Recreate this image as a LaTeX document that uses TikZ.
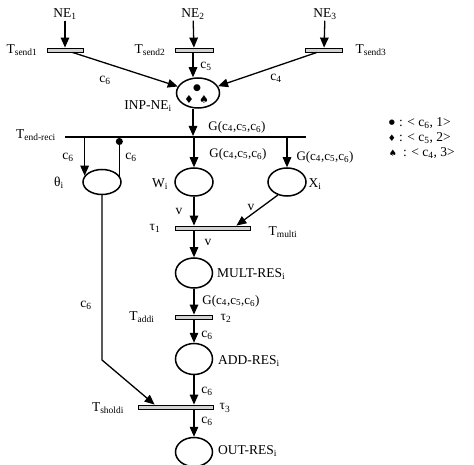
\documentclass[tikz,border=0pt]{standalone}
\usepackage{fontspec}
\setmainfont{Liberation Serif}
\newfontfamily\symfont{DejaVu Sans}
\usetikzlibrary{arrows.meta,shapes.geometric}
\newcommand{\subtx}[1]{\textsubscript{#1}}
\tikzset{
  place/.style={draw, ellipse, line width=1.5pt, minimum width=38pt,
    minimum height=28pt, inner sep=0pt},
  trans/.style={draw, fill=gray!35, line width=0.8pt, minimum height=4pt,
    inner sep=0pt},
  arc/.style={line width=1.3pt, -{Triangle[length=10pt,width=8.5pt]}},
  lbl/.style={font=\fontsize{13.5}{15}\selectfont, inner sep=1pt},
  glbl/.style={font=\fontsize{13}{15}\selectfont, inner sep=1pt},
}
\begin{document}
\begin{tikzpicture}[x=1pt, y=-1pt]
  \useasboundingbox (0,0) rectangle (474,465);

  % Sender
  \node[lbl] (ne1) at (65,14) {NE\subtx{1}};
  \node[lbl] (ne2) at (193,14) {NE\subtx{2}};
  \node[lbl] (ne3) at (325,14) {NE\subtx{3}};
  \node[trans, minimum width=36pt] (ts1) at (65,50) {};
  \node[trans, minimum width=38pt] (ts2) at (194,50) {};
  \node[trans, minimum width=37pt] (ts3) at (324,50) {};
  \node[lbl] (ts1-l) at (22,50) {T\subtx{send1}};
  \node[lbl] (ts2-l) at (150,50) {T\subtx{send2}};
  \node[lbl] (ts3-l) at (371,50) {T\subtx{send3}};
  \draw[arc] (ne1) -- (ts1);
  \draw[arc] (ne2) -- (ts2);
  \draw[arc] (ne3) -- (ts3);

  % Eingangsplatz mit Marken
  \node[place, minimum width=43pt, minimum height=30pt] (inp) at (198,93) {};
  \node[font=\symfont\fontsize{9}{9}\selectfont, inner sep=0pt] (tok1) at (197,88) {●};
  \node[font=\symfont\fontsize{11}{11}\selectfont, inner sep=0pt] (tok2) at (189,99) {♦};
  \node[font=\symfont\fontsize{11}{11}\selectfont, inner sep=0pt] (tok3) at (204,99) {♠};
  \node[lbl] (inp-l) at (148,106) {INP-NE\subtx{i}};
  \draw[arc] (ts1) -- (inp);
  \draw[arc] (ts2.south -| 193,0) -- (inp.north -| 193,0);
  \draw[arc] (ts3) -- (inp);
  \node[lbl] (c6a) at (105,80) {c\subtx{6}};
  \node[lbl] (c5a) at (206,66) {c\subtx{5}};
  \node[lbl] (c4a) at (276,78) {c\subtx{4}};

  % Legende
  \node[font=\symfont\fontsize{7}{7}\selectfont] (lg1) at (392,123) {●};
  \node[font=\symfont\fontsize{9}{9}\selectfont] (lg2) at (392,138) {♦};
  \node[font=\symfont\fontsize{9}{9}\selectfont] (lg3) at (393,153) {♠};
  \node[lbl, anchor=west] (lg1-t) at (398,123) {: < c\subtx{6}, 1>};
  \node[lbl, anchor=west] (lg2-t) at (398,138) {: < c\subtx{5}, 2>};
  \node[lbl, anchor=west] (lg3-t) at (402,153) {: < c\subtx{4}, 3>};

  % Verteilung
  \node[fill=black, minimum width=241pt, minimum height=1.6pt, inner sep=0pt]
    (tend) at (185.5,137) {};
  \node[lbl] (tend-l) at (36,135) {T\subtx{end-reci}};
  \draw[arc] (inp.south -| 193,0) -- (tend.north -| 193,0);
  \node[glbl] (g1) at (237,127) {G(c\subtx{4},c\subtx{5},c\subtx{6})};

  \node[place, minimum height=25pt] (theta) at (102,182) {};
  \node[place] (w) at (194,182) {};
  \node[place] (x) at (287,182) {};
  \node[lbl] (theta-l) at (59,183) {θ\subtx{i}};
  \node[lbl] (w-l) at (160,184) {W\subtx{i}};
  \node[lbl] (x-l) at (315,184) {X\subtx{i}};
  \draw[arc] (tend.south -| theta.160) -- (theta.160);
  \draw[line width=1.3pt, -{Circle[length=7pt]}] (theta.20) -- (theta.20 |- tend.south);
  \draw[arc] (tend.south -| w) -- (w);
  \draw[arc] (tend.south -| x) -- (x);
  \node[lbl] (c6b) at (68,157) {c\subtx{6}};
  \node[lbl] (c6c) at (131,157) {c\subtx{6}};
  \node[glbl] (g2) at (238,154) {G(c\subtx{4},c\subtx{5},c\subtx{6})};
  \node[glbl] (g3) at (325,157) {G(c\subtx{4},c\subtx{5},c\subtx{6})};

  % Multiplikation
  \node[trans, minimum width=75pt] (tmul) at (212.5,228) {};
  \node[lbl] (tmul-l1) at (155,228) {τ\subtx{1}};
  \node[lbl] (tmul-l2) at (283,232) {T\subtx{multi}};
  \draw[arc] (w) -- (w |- tmul.north);
  \draw[arc] (x.235) -- ([xshift=-14pt]tmul.north east);
  \node[lbl] (v1) at (179,211) {v};
  \node[lbl] (v2) at (251,207) {v};
  \node[place, minimum width=37pt, minimum height=30pt] (mult) at (194,273) {};
  \node[lbl, anchor=west] (mult-l) at (216,274) {MULT-RES\subtx{i}};
  \draw[arc] (tmul.south -| mult) -- (mult);
  \node[lbl] (v3) at (208,242) {v};

  % Addition
  \node[trans, minimum width=37pt] (tadd) at (194,317) {};
  \node[lbl] (tadd-l1) at (142,317) {T\subtx{addi}};
  \node[lbl] (tadd-l2) at (226,318) {τ\subtx{2}};
  \draw[arc] (mult) -- (tadd);
  \node[glbl] (g4) at (231,301) {G(c\subtx{4},c\subtx{5},c\subtx{6})};
  \node[place, minimum width=37pt, minimum height=31pt] (add) at (194,359) {};
  \node[lbl, anchor=west] (add-l) at (217,361) {ADD-RES\subtx{i}};
  \draw[arc] (tadd) -- (add);
  \node[lbl] (c6d) at (207,335) {c\subtx{6}};

  % Ausgabe
  \node[trans, minimum width=75pt] (thold) at (175.5,407) {};
  \node[lbl] (thold-l1) at (108,408) {T\subtx{sholdi}};
  \node[lbl] (thold-l2) at (225,408) {τ\subtx{3}};
  \draw[arc] (add) -- (add |- thold.north);
  \draw[arc] (theta) -- (theta |- 0,360) -- ([xshift=17pt]thold.north west);
  \node[lbl] (c6e) at (86,305) {c\subtx{6}};
  \node[lbl] (c6f) at (207,391) {c\subtx{6}};
  \node[place, minimum width=37pt, minimum height=29pt] (out) at (194,452) {};
  \node[lbl, anchor=west] (out-l) at (217,451) {OUT-RES\subtx{i}};
  \draw[arc] (thold.south -| out) -- (out);
  \node[lbl] (c6g) at (207,421) {c\subtx{6}};
\end{tikzpicture}
\end{document}
